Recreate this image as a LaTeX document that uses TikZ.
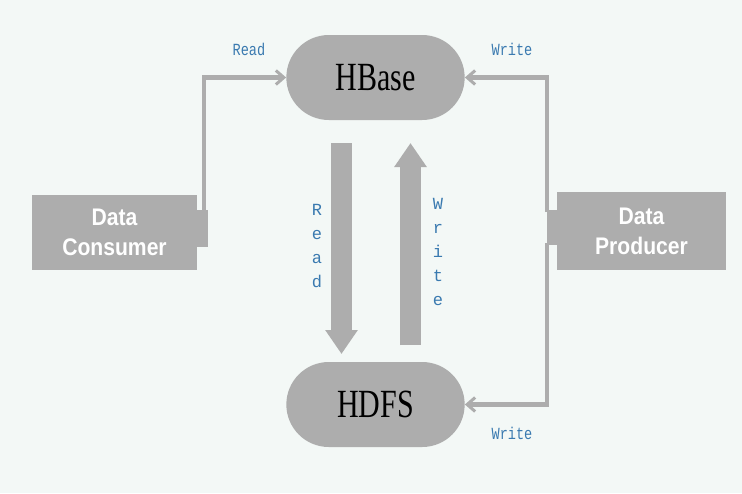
\documentclass[tikz,border=0pt]{standalone}
\usepackage{fontspec}
\setmainfont{Liberation Serif}
\newfontfamily\lmono{Liberation Mono}
\newfontfamily\lsans{Liberation Sans}
\usetikzlibrary{arrows.meta,shapes.misc}
\definecolor{bg}{HTML}{F3F8F6}
\definecolor{gr}{HTML}{ADADAD}
\definecolor{lb}{HTML}{3A7AB0}
\begin{document}
\begin{tikzpicture}[x=1pt,y=-1pt,
  pill/.style={rounded rectangle,fill=gr,minimum width=185pt,minimum height=85pt,font=\fontsize{40}{40}\selectfont},
  box/.style={fill=gr,text=white,font=\lsans\bfseries\fontsize{24}{30}\selectfont,align=center},
  conn/.style={draw=gr,line width=4.5pt,-{Straight Barb[length=8pt,width=14pt,line width=3pt]}},
  lbl/.style={text=lb,font=\lmono\fontsize{17}{17}\selectfont},
  vlbl/.style={text=lb,font=\lmono\fontsize{17}{24}\selectfont,align=center}]
\fill[bg] (0,0) rectangle (742,493);
\useasboundingbox (0,0) rectangle (742,493);
\node[pill] (hb) at (375.5,77.5) {\scalebox{0.75}[1]{HBase}};
\node[pill] (hd) at (375.5,404.5) {\scalebox{0.75}[1]{HDFS}};
\node[box,minimum width=165pt,minimum height=75pt] (dc) at (114.5,232.5) {\scalebox{0.88}[1]{Data}\\\scalebox{0.88}[1]{Consumer}};
\fill[gr] (196,210) rectangle (208,247);
\node[box,minimum width=169pt,minimum height=78pt] (dp) at (641.5,231) {\scalebox{0.88}[1]{Data}\\\scalebox{0.88}[1]{Producer}};
\fill[gr] (547,210) rectangle (558,245);
\coordinate (c1) at (204,212);
\coordinate (p1) at (547,212);
\coordinate (p2) at (547,243);
\draw[conn] (c1) |- (hb.west);
\draw[conn] (p1) |- (hb.east);
\draw[conn] (p2) |- (hd.east);
\coordinate (r1) at (341.5,143);
\coordinate (r2) at (341.5,354);
\coordinate (w1) at (410.5,345);
\coordinate (w2) at (410.5,143);
\draw[gr,line width=21pt,-{Triangle[length=24pt,width=31pt]}] (r1) -- (r2);
\draw[gr,line width=21pt,-{Triangle[length=24pt,width=31pt]}] (w1) -- (w2);
\node[lbl] (t1) at (249,49) {\scalebox{0.8}[1]{Read}};
\node[lbl] (t2) at (512,49) {\scalebox{0.8}[1]{Write}};
\node[lbl] (t3) at (512,433) {\scalebox{0.8}[1]{Write}};
\node[vlbl] (t4) at (317,246) {R\\e\\a\\d};
\node[vlbl] (t5) at (438,252) {W\\r\\i\\t\\e};
\end{tikzpicture}
\end{document}
